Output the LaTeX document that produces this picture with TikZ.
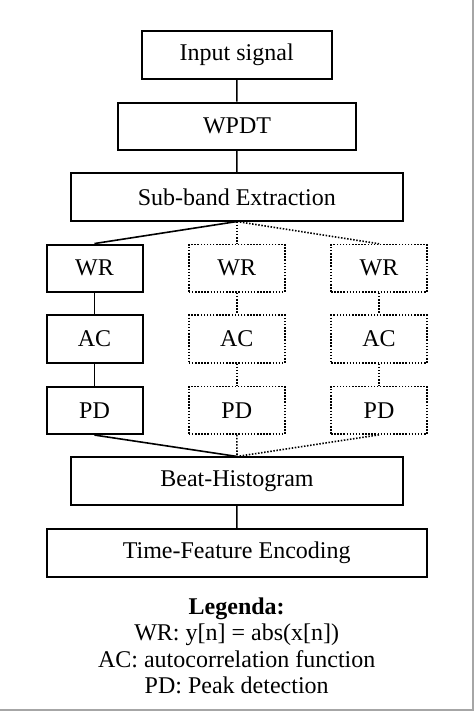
\documentclass[tikz,border=0pt]{standalone}
\usepackage{fontspec}
\setmainfont{Liberation Serif}
\usepackage{tikz}
\tikzstyle{block}=[draw, line width=2pt, inner sep=0pt, minimum height=47.5pt, font=\fontsize{24}{27}\selectfont]
\tikzstyle{dotblock}=[block, line width=1.6pt, dash pattern=on 1.5pt off 1.6pt]
\tikzstyle{link}=[line width=1.6pt]
\tikzstyle{dotlink}=[line width=1.6pt, dash pattern=on 1.5pt off 1.6pt]

\begin{document}
\begin{tikzpicture}[x=1pt, y=-1pt]
\useasboundingbox (0,0) rectangle (474,711);
% Frame
    \fill[gray!70] (471.5,0) rectangle (474,711);
    \fill[gray!70] (0,708.5) rectangle (474,711);
% Main chain
    \node[block, minimum width=190pt] (input) at (236.7,54.8) {Input signal};
    \node[block, minimum width=237.4pt] (wpdt) at (237,126.3) {WPDT};
    \node[block, minimum width=332.3pt] (subband) at (236.8,196.8) {Sub-band Extraction};
% Sub-band branches
    \node[block, minimum width=96pt] (wr1) at (94.5,268.3) {WR};
    \node[block, minimum width=96pt] (ac1) at (94.5,339) {AC};
    \node[block, minimum width=96pt] (pd1) at (94.5,410.3) {PD};
    \node[dotblock, minimum width=96pt] (wr2) at (236.8,268.3) {WR};
    \node[dotblock, minimum width=96pt] (ac2) at (236.8,339) {AC};
    \node[dotblock, minimum width=96pt] (pd2) at (236.8,410.3) {PD};
    \node[dotblock, minimum width=96pt] (wr3) at (379,268.3) {WR};
    \node[dotblock, minimum width=96pt] (ac3) at (379,339) {AC};
    \node[dotblock, minimum width=96pt] (pd3) at (379,410.3) {PD};
% Output chain
    \node[block, minimum width=332.7pt] (beat) at (237,481.2) {Beat-Histogram};
    \node[block, minimum width=380pt] (encoding) at (236.7,552.8) {Time-Feature Encoding};
% Legend (base = last line)
    \node[align=center, anchor=base, font=\fontsize{24}{26.3}\selectfont] (legend) at (236.7,693.3)
        {\textbf{Legenda:}\\WR: y[n] = abs(x[n])\\AC: autocorrelation function\\PD: Peak detection};
% Links
    \draw[link] (input) -- (wpdt);
    \draw[link] (wpdt) -- (subband);
    \draw[link] (subband.south) -- (wr1.north);
    \draw[dotlink] (subband.south) -- (wr2.north);
    \draw[dotlink] (subband.south) -- (wr3.north);
    \draw[link] (wr1) -- (ac1);
    \draw[link] (ac1) -- (pd1);
    \draw[dotlink] (wr2) -- (ac2);
    \draw[dotlink] (ac2) -- (pd2);
    \draw[dotlink] (wr3) -- (ac3);
    \draw[dotlink] (ac3) -- (pd3);
    \draw[link] (pd1.south) -- (beat.north);
    \draw[dotlink] (pd2.south) -- (beat.north);
    \draw[dotlink] (pd3.south) -- (beat.north);
    \draw[link] (beat) -- (encoding);
\end{tikzpicture}
\end{document}
